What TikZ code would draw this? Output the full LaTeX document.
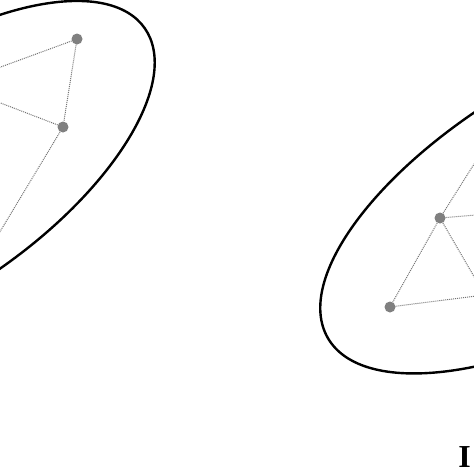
\documentclass[tikz,border=0pt]{standalone}
\usepackage{fontspec}
\setmainfont{Liberation Serif}
\begin{document}
\begin{tikzpicture}[x=1pt,y=-1pt,
  rim/.style={line width=2.4pt, black},
  link/.style={gray!90!black, dash pattern=on 1pt off 1pt, line width=1pt},
  dot/.style={circle, fill=gray, inner sep=0pt, minimum size=11pt}]
\useasboundingbox (0,0) rectangle (474,474);
\begin{scope}
\clip (0,0) rectangle (474,474);
% left ellipse
\draw[rim] (-65,175) ellipse[x radius=256pt, y radius=114pt, rotate=35];
% right ellipse
\draw[rim] (579,193) ellipse[x radius=290pt, y radius=124pt, rotate=30];
% left nodes
\node[dot] (A) at (77,39) {};
\node[dot] (B) at (63,127) {};
\coordinate (a1) at (-2,68);
\coordinate (b1) at (-2,102);
\coordinate (b2) at (-2,235);
\draw[link] (A) -- (a1);
\draw[link] (A) -- (B);
\draw[link] (B) -- (b1);
\draw[link] (B) -- (b2);
% right nodes
\node[dot] (C) at (440,218) {};
\node[dot] (D) at (390,307) {};
\coordinate (c1) at (476,161);
\coordinate (c2) at (476,215);
\coordinate (c3) at (476,280);
\coordinate (d1) at (476,296);
\draw[link] (C) -- (c1);
\draw[link] (C) -- (c2);
\draw[link] (C) -- (c3);
\draw[link] (C) -- (D);
\draw[link] (D) -- (d1);
\end{scope}
\node[anchor=base east, inner sep=0pt, font=\bfseries\fontsize{32}{32}\selectfont] (lbl) at (471,467) {I};
\end{tikzpicture}
\end{document}
